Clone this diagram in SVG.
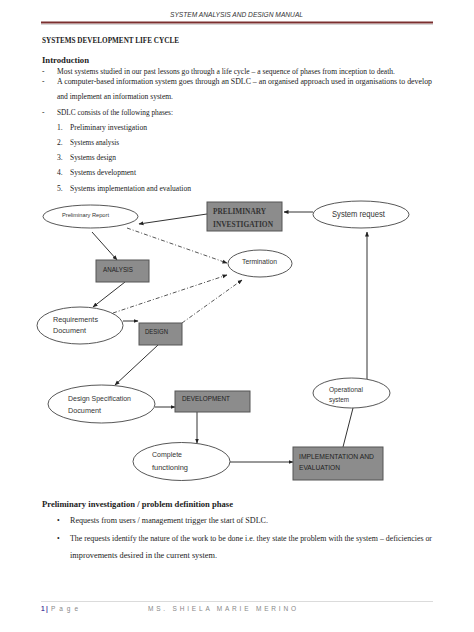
<svg xmlns="http://www.w3.org/2000/svg" width="474" height="632" viewBox="0 0 474 632">
<defs>
<marker id="ah" viewBox="0 0 10 10" refX="9" refY="5" markerWidth="5" markerHeight="5" orient="auto-start-reverse" markerUnits="userSpaceOnUse">
<path d="M0,1 L10,5 L0,9 z" fill="#222"/>
</marker>
<style>
.body{font-family:"Liberation Serif","Times New Roman",serif;font-size:7.6px;fill:#222}
.bold{font-weight:bold}
.box{fill:#8c8c8c;stroke:#555;stroke-width:1}
.ell{fill:#fff;stroke:#444;stroke-width:0.9}
.lbl{font-family:"Liberation Sans",Arial,sans-serif;fill:#333}
.blbl{font-family:"Liberation Sans",Arial,sans-serif;fill:#222;font-size:7.4px}
.conn{stroke:#333;stroke-width:1;fill:none}
.dash{stroke:#444;stroke-width:0.9;fill:none;stroke-dasharray:4 2 1 2}
.foot{font-family:"Liberation Sans",Arial,sans-serif;font-size:6.5px;fill:#888}
</style>
</defs>
<rect width="474" height="632" fill="#fff"/>

<!-- header -->
<text x="236.5" y="17" text-anchor="middle" font-family="Liberation Sans, Arial, sans-serif" font-style="italic" font-size="7.6" fill="#333" textLength="133" lengthAdjust="spacingAndGlyphs">SYSTEM ANALYSIS AND DESIGN MANUAL</text>
<line x1="41" y1="22.5" x2="433" y2="22.5" stroke="#7a2f2f" stroke-width="2"/>
<line x1="41" y1="24.5" x2="433" y2="24.5" stroke="#bbb" stroke-width="0.6"/>

<text class="body bold" x="42" y="43" textLength="137" lengthAdjust="spacingAndGlyphs">SYSTEMS DEVELOPMENT LIFE CYCLE</text>
<text class="body bold" x="42" y="63" font-size="8.4" textLength="47" lengthAdjust="spacingAndGlyphs">Introduction</text>
<text class="body" x="42" y="74">-</text>
<text class="body" x="57" y="74" textLength="338" lengthAdjust="spacingAndGlyphs">Most systems studied in our past lessons go through a life cycle – a sequence of phases from inception to death.</text>
<text class="body" x="42" y="84">-</text>
<text class="body" x="57" y="84" textLength="375" lengthAdjust="spacingAndGlyphs">A computer-based information system goes through an SDLC – an organised approach used in organisations to develop</text>
<text class="body" x="57" y="99" textLength="116" lengthAdjust="spacingAndGlyphs">and implement an information system.</text>
<text class="body" x="42" y="115">-</text>
<text class="body" x="57" y="115" textLength="116" lengthAdjust="spacingAndGlyphs">SDLC consists of the following phases:</text>
<text class="body" x="57" y="130">1.</text>
<text class="body" x="70" y="130" textLength="77" lengthAdjust="spacingAndGlyphs">Preliminary investigation</text>
<text class="body" x="57" y="145">2.</text>
<text class="body" x="70" y="145" textLength="49" lengthAdjust="spacingAndGlyphs">Systems analysis</text>
<text class="body" x="57" y="160">3.</text>
<text class="body" x="70" y="160" textLength="46" lengthAdjust="spacingAndGlyphs">Systems design</text>
<text class="body" x="57" y="175">4.</text>
<text class="body" x="70" y="175" textLength="66" lengthAdjust="spacingAndGlyphs">Systems development</text>
<text class="body" x="57" y="191">5.</text>
<text class="body" x="70" y="191" textLength="121" lengthAdjust="spacingAndGlyphs">Systems implementation and evaluation</text>

<!-- connectors -->
<g id="connectors">
<line class="conn" x1="313" y1="212" x2="284" y2="212" marker-end="url(#ah)"/>
<line class="conn" x1="207" y1="214" x2="139" y2="224" marker-end="url(#ah)"/>
<line class="conn" x1="92" y1="232" x2="117" y2="260" marker-end="url(#ah)"/>
<line class="conn" x1="125" y1="282" x2="93" y2="307" marker-end="url(#ah)"/>
<line class="conn" x1="123" y1="321" x2="138" y2="321" marker-end="url(#ah)"/>
<line class="conn" x1="158" y1="345" x2="115" y2="385" marker-end="url(#ah)"/>
<line class="conn" x1="155" y1="407" x2="175" y2="407" marker-end="url(#ah)"/>
<line class="conn" x1="197" y1="412" x2="197" y2="443" marker-end="url(#ah)"/>
<line class="conn" x1="230" y1="462" x2="293" y2="462" marker-end="url(#ah)"/>
<line class="conn" x1="343" y1="447" x2="353" y2="408"/>
<line class="conn" x1="367" y1="379" x2="367" y2="232" marker-end="url(#ah)"/>
<line class="dash" x1="127" y1="228" x2="227" y2="263" marker-end="url(#ah)"/>
<line class="dash" x1="113" y1="313" x2="227" y2="275" marker-end="url(#ah)"/>
<line class="dash" x1="182" y1="323" x2="242" y2="280" marker-end="url(#ah)"/>
</g>

<!-- nodes -->
<g id="preliminary-report">
<ellipse class="ell" cx="90.5" cy="216.5" rx="47.5" ry="11.5"/>
<text class="lbl" x="62" y="216.5" font-size="6" textLength="47" lengthAdjust="spacingAndGlyphs">Preliminary Report</text>
</g>
<g id="preliminary-investigation">
<rect class="box" x="207" y="202" width="75" height="29"/>
<text x="213" y="214" font-family="Liberation Serif, Times New Roman, serif" font-weight="bold" font-size="7.6" fill="#333" textLength="53" lengthAdjust="spacingAndGlyphs">PRELIMINARY</text>
<text x="213" y="227" font-family="Liberation Serif, Times New Roman, serif" font-weight="bold" font-size="7.6" fill="#333" textLength="60" lengthAdjust="spacingAndGlyphs">INVESTIGATION</text>
</g>
<g id="system-request">
<ellipse class="ell" cx="361" cy="214.5" rx="48" ry="13.5"/>
<text class="lbl" x="332" y="217" font-size="8.2" textLength="53" lengthAdjust="spacingAndGlyphs">System request</text>
</g>
<g id="termination">
<ellipse class="ell" cx="260" cy="263.5" rx="32" ry="13.5"/>
<text class="lbl" x="242" y="264" font-size="6.4" textLength="35" lengthAdjust="spacingAndGlyphs">Termination</text>
</g>
<g id="analysis">
<rect class="box" x="96" y="260" width="53" height="22"/>
<text class="blbl" x="103" y="272" textLength="30" lengthAdjust="spacingAndGlyphs">ANALYSIS</text>
</g>
<g id="requirements-document">
<ellipse class="ell" cx="80" cy="325.5" rx="43" ry="18.5"/>
<text class="lbl" x="53" y="322" font-size="7.8" textLength="45" lengthAdjust="spacingAndGlyphs">Requirements</text>
<text class="lbl" x="53" y="333" font-size="7.8" textLength="33" lengthAdjust="spacingAndGlyphs">Document</text>
</g>
<g id="design">
<rect class="box" x="139" y="323" width="43" height="22"/>
<text class="blbl" x="145" y="334" textLength="23" lengthAdjust="spacingAndGlyphs">DESIGN</text>
</g>
<g id="design-specification-document">
<ellipse class="ell" cx="101.5" cy="404" rx="53.5" ry="19"/>
<text class="lbl" x="68" y="401" font-size="7.8" textLength="63" lengthAdjust="spacingAndGlyphs">Design Specification</text>
<text class="lbl" x="68" y="412.5" font-size="7.8" textLength="33" lengthAdjust="spacingAndGlyphs">Document</text>
</g>
<g id="development">
<rect class="box" x="175" y="391" width="75" height="21"/>
<text class="blbl" x="182" y="401" textLength="48" lengthAdjust="spacingAndGlyphs">DEVELOPMENT</text>
</g>
<g id="complete-functioning">
<ellipse class="ell" cx="181.5" cy="461.5" rx="48.5" ry="19"/>
<text class="lbl" x="152" y="457" font-size="7.8" textLength="30" lengthAdjust="spacingAndGlyphs">Complete</text>
<text class="lbl" x="152" y="469.5" font-size="7.8" textLength="36" lengthAdjust="spacingAndGlyphs">functioning</text>
</g>
<g id="implementation-evaluation">
<rect class="box" x="293" y="447" width="90" height="33"/>
<text class="blbl" x="299" y="459" textLength="75" lengthAdjust="spacingAndGlyphs">IMPLEMENTATION AND</text>
<text class="blbl" x="299" y="470" textLength="41" lengthAdjust="spacingAndGlyphs">EVALUATION</text>
</g>
<g id="operational-system">
<ellipse class="ell" cx="351.5" cy="393" rx="38.5" ry="15"/>
<text class="lbl" x="329" y="391.5" font-size="6.4" textLength="34" lengthAdjust="spacingAndGlyphs">Operational</text>
<text class="lbl" x="329" y="401.5" font-size="6.4" textLength="20" lengthAdjust="spacingAndGlyphs">system</text>
</g>

<!-- bottom text -->
<text class="body bold" x="42" y="507" textLength="191" lengthAdjust="spacingAndGlyphs">Preliminary investigation / problem definition phase</text>
<text class="body" x="57" y="523">•</text>
<text class="body" x="70" y="523" textLength="198" lengthAdjust="spacingAndGlyphs">Requests from users / management trigger the start of SDLC.</text>
<text class="body" x="57" y="541">•</text>
<text class="body" x="70" y="541" textLength="362" lengthAdjust="spacingAndGlyphs">The requests identify the nature of the work to be done i.e. they state the problem with the system – deficiencies or</text>
<text class="body" x="70" y="558" textLength="147" lengthAdjust="spacingAndGlyphs">improvements desired in the current system.</text>

<!-- footer -->
<line x1="41" y1="601.5" x2="433" y2="601.5" stroke="#ccc" stroke-width="0.7"/>
<text x="41" y="611" font-family="Liberation Sans, Arial, sans-serif" font-size="6.5" font-weight="bold" fill="#4b3f9e">1</text>
<text x="46" y="611" font-family="Liberation Sans, Arial, sans-serif" font-size="6.5" font-weight="bold" fill="#4b3f9e">|</text>
<text class="foot" x="51" y="611" textLength="27" lengthAdjust="spacing">Page</text>
<text class="foot" x="148" y="611" textLength="148" lengthAdjust="spacing">MS. SHIELA MARIE MERINO</text>
</svg>
